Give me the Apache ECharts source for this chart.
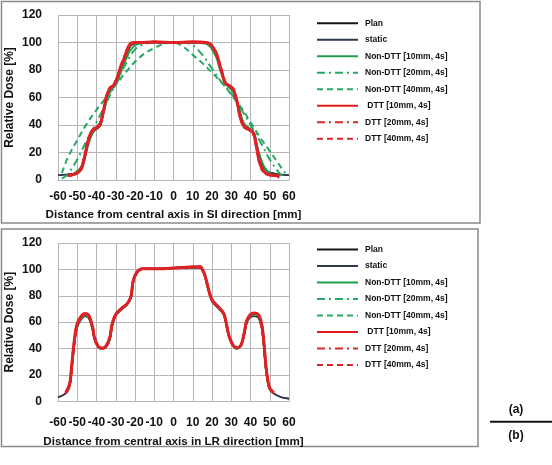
<!DOCTYPE html>
<html>
<head>
<meta charset="utf-8">
<script src="https://cdn.jsdelivr.net/npm/echarts@6/dist/echarts.min.js"></script>
<style>
html,body{margin:0;padding:0;background:#fff;}
#c{width:552px;height:465px;}
</style>
</head>
<body>
<div id="c"></div>
<script>
// ---------- DATA ----------
const xTicks = [-60,-50,-40,-30,-20,-10,0,10,20,30,40,50,60];
const yTicks = [0,20,40,60,80,100,120];
const seriesNames = ['Plan','static','Non-DTT [10mm, 4s]','Non-DTT [20mm, 4s]','Non-DTT [40mm, 4s]',' DTT [10mm, 4s]','DTT [20mm, 4s]','DTT [40mm, 4s]'];

// (a) SI direction
const xsSI = [-60,-55,-52,-50,-48,-47,-46,-45,-44,-43,
  -42,-40,-38,-37,-36,-35,-34,-33,-31,-29,
  -28,-27,-26,-25,-24,-23,-22,-20,-17,-10,
  0,10,17,19,20,22,23,24,25,26,
  27,29,31,32,33,34,35,36,37,39,
  41,42,43,44,45,46,47,49,51,55,
  60];
const planSI = [3.5,4,4.5,5.5,7.5,11,16,23,29,33,
  35,37,39.5,45,51,57,63,66,68.5,73,
  78,82,85,89,93,96,98,99.5,100,100,
  100,100,100,98.5,97,92,88,83,78,73,
  70,68,65.5,62,58,52,46,42,39.5,37.5,
  35,33,27,20,15,11,9,6,5,4,
  3.5];
const staticSI = [3.5,4,4.5,5.5,7.8,11.5,16.5,23.5,29,33,
  35,37.2,39.8,45.5,51.5,57.5,63,66,68.5,73,
  78,82,85.5,89.5,93,96,98,99.5,100,100,
  100,100,100,98.5,97,92.5,88.5,83.5,78.5,73.5,
  70.5,68,65.5,62,58,52,46.5,42.5,39.5,37.5,
  35,33,27.5,20.5,15,11,9,6,5,4,
  3.5];
const nonDtt10SI = [null,3,4.5,6.5,9.5,13,17,22,27,31,
  34,38,42,46,51,56,61,64,68,72,
  76,80,84,87,90,93,95,98,99.5,100,
  100,100,99,97,95,90,86,81,77,73,
  70,67,64,61,57,52,47,43,40.5,38,
  35,32,27,22,17,13,10,6,4,3,
  null];
const dtt10SI = [null,3.5,4,5,8,12,18,25,30,34,
  36,38,41,46,53,60,64,67,69,75,
  80,84,87,91,95,98,99.5,100,100,100.5,
  100,100.5,100,99,97.5,93,89,84,79,74,
  70.5,68.5,66,62,57,50,44,40.5,38.5,37,
  35,32,25,17,12,8,6,4,3.5,3,
  null];
const dtt20SI = [null,3,4,5.5,8.5,13,19,26,31,34.5,
  36.5,38.5,41.5,47,54,60,64.5,67,69.5,75.5,
  80.5,84.5,88,92,95.5,98,99.5,100,100,100,
  100,100,100,99,97,92.5,88.5,83.5,78.5,73.5,
  70,68,65.5,61.5,56,49,43.5,40,38,36.5,
  34.5,31,24,16,11,7.5,5.5,4,3.5,3,
  null];
const dtt40SI = [null,3,4,5,7.5,11.5,17,24,29.5,33.5,
  35.5,37.5,40.5,45.5,52,59,63.5,66.5,68.5,74.5,
  79.5,83.5,86.5,90.5,94.5,97.5,99,100,100,100,
  100,100,100,99,97.5,93,89,84.5,79.5,74.5,
  71,69,66.5,62.5,57.5,51,45,41,39,37.5,
  35.5,33,26,18.5,13,9,6.5,4.5,3.5,2,
  null];
const xsSI2 = [-58,-55,-50,-45,-40,-35,-30,-25,-20,-15,-10,-5,0,5,10,15,20,25,30,35,40,45,50,55,58];
const nonDtt20SI = [1,4,15,29,42,56,70,84,95,99,100,100,100,100,98,91,81,71,63,52,40,28,15,5,1.5];
const nonDtt40SI = [5,16,29,41,51,60,69,78,86,92,96,99,100,97,91,85,78,71,62,53,42,31,21,11,5];

// (b) LR direction
const xsLR = [-60,-56,-54,-53,-52,-51,-50,-48,-46,-44,
  -42,-41,-39,-37,-35,-33,-32,-30,-27,-24,
  -22,-21,-19,-16,-10,-5,0,5,10,14,
  15,16,17,18,20,23,26,27,28,29,
  31,33,35,36,37,38,40,42,44,45,
  46,47,48,49,50,52,56,60];
const planLR = [3,6,11,22,36,49,56,62,64.5,63,
  54,47,41,40,41,47,56,65,69.5,73.5,
  79,90,97,100.3,100.5,100.5,101,101,101,101,
  99,96,91,85,76,71,66,61,54,48,
  42,40,42,46,52,59,64,64.5,63.5,60,
  54,40,24,14,9,6,3,2];
const staticLR = [3,6,11.5,22.5,36.5,49.5,56.5,62.5,64.5,63,
  54,47,41,40,41,47,56,65,69.5,73.5,
  79,90,97,100.3,100.5,100.5,101,101,101,101,
  99,96,91,85,76,71,66,61,54,48,
  42,40,42,46,52,59,64,64.5,63.5,60,
  54,40,24,14,9,6,3,2];
const nonDtt10LR = [null,6.5,12.5,24,38,50.5,57.5,63.5,65.5,64,
  55,47.5,41,40,41.5,48,57,65.5,70,74,
  80,90.5,97.5,100.5,100.5,100.5,101,101.5,101.5,101.5,
  99.5,96.5,91.5,85.5,76.5,71.5,66.5,61.5,54.5,48.5,
  42,40,42,46.5,53,60,65,66,65,62,
  56,42,25.5,15,9.5,6,null,null];
const nonDtt20LR = [null,6,12,23.5,37.5,50,57,63,65,63.5,
  55,47,41,40,41.5,47.5,56.5,65,70,74,
  80,90,97.5,100.5,100.5,100.5,101,101.5,101.5,101.5,
  99.5,96.5,91.5,85.5,76.5,71.5,66.5,61.5,54.5,48.5,
  42,40,42,46.5,53,60,65,66,65,62,
  56,42,25,15,9.5,6,null,null];
const nonDtt40LR = [null,6,12,23,37,50,57,63,65,63.5,
  54.5,47,41,40,41.5,47.5,56.5,65,70,74,
  80,90,97.5,100.5,100.5,100.5,101,101.5,101.5,101.5,
  99.5,96.5,91.5,85.5,76.5,71.5,66.5,61.5,54.5,48.5,
  42,40,42,46.5,53,60,65,66,65,62,
  56,42,25,15,9.5,6,null,null];
const dtt10LR = [null,6.5,13,25,40,52,59,64.5,66.5,65,
  56,48,41.5,40,42,49,58,66,70.5,74,
  80,91,98,100.5,100.5,100.5,101,101.5,102,102,
  100,97,92,86,77,72,67,62,55,49,
  42.5,40.5,42.5,47,54,61,66,67,66,63,
  57,44,27,16,10,6.5,null,null];
const dtt20LR = [null,6,12,24,39,51,58,64,66,64.5,
  55.5,47.5,41,40,41.5,48.5,57.5,65.5,70,74,
  80,90.5,97.5,100.5,100.5,100.5,101,101.5,101.5,102,
  100,96.5,91.5,85.5,76.5,71.5,66.5,61.5,54.5,48.5,
  42,40,42,46.5,53.5,60.5,65.5,66.5,65.5,62.5,
  56.5,43,26,15.5,10,6,null,null];
const dtt40LR = [null,6,12.5,24.5,39.5,51.5,58.5,64,66,64.5,
  55.5,48,41.5,40.5,42,48.5,57.5,65.5,70.5,74,
  80.5,91,98,100.5,100.5,100.5,101,101,101.5,101.5,
  99.5,96.5,91.5,85.5,77,72,67,62,55,49,
  42.5,40.5,42.5,47,53.5,60.5,65.5,66.5,65.5,62.5,
  56.5,43.5,26.5,15.5,10,6,null,null];

// ---------- STYLES ----------
const FONT = "'Liberation Sans', Arial, sans-serif";
const GRID_C = '#b5b5b5';
const styles = [
  {color:'#151515', width:1.6, type:'solid'},
  {color:'#2e3a50', width:1.6, type:'solid'},
  {color:'#1f9e4c', width:2, type:'solid'},
  {color:'#26a862', width:2, type:[8,4,2,4]},
  {color:'#26a862', width:2, type:[6,4]},
  {color:'#e4191c', width:3, type:'solid'},
  {color:'#d8262a', width:2.5, type:[8,4,2,4]},
  {color:'#d8262a', width:2.5, type:[6,4]}
];

function pairs(xs, ys){ return xs.map((x,i)=>[x, ys[i]]); }

const panelA = [
  pairs(xsSI, planSI), pairs(xsSI, staticSI), pairs(xsSI, nonDtt10SI),
  pairs(xsSI2, nonDtt20SI), pairs(xsSI2, nonDtt40SI),
  pairs(xsSI, dtt10SI), pairs(xsSI, dtt20SI), pairs(xsSI, dtt40SI)
];
const panelB = [
  pairs(xsLR, planLR), pairs(xsLR, staticLR), pairs(xsLR, nonDtt10LR),
  pairs(xsLR, nonDtt20LR), pairs(xsLR, nonDtt40LR),
  pairs(xsLR, dtt10LR), pairs(xsLR, dtt20LR), pairs(xsLR, dtt40LR)
];

const series = [];
[panelA, panelB].forEach((panel, p)=>{
  panel.forEach((data, i)=>{
    series.push({
      name: seriesNames[i], type:'line', xAxisIndex:p, yAxisIndex:p,
      data: data, symbol:'none', smooth:0.35, connectNulls:false,
      lineStyle: {color:styles[i].color, width:styles[i].width, type:styles[i].type},
      itemStyle: {color:styles[i].color},
      animation:false, z: 2 + i
    });
  });
});

function xAxis(gi, name, margin, gap){
  return {
    type:'value', gridIndex:gi, min:-60, max:60, interval:10,
    name:name, nameLocation:'middle', nameGap:gap,
    nameTextStyle:{fontFamily:FONT, fontWeight:'bold', fontSize:11.6, color:'#111'},
    axisLine:{show:true, lineStyle:{color:GRID_C}}, axisTick:{show:false},
    axisLabel:{fontFamily:FONT, fontWeight:'bold', fontSize:12, color:'#111', margin:margin, showMinLabel:true, showMaxLabel:true},
    splitLine:{show:true, lineStyle:{color:GRID_C, width:1}}
  };
}
function yAxis(gi){
  return {
    type:'value', gridIndex:gi, min:0, max:120, interval:20,
    name:'Relative Dose [%]', nameLocation:'middle', nameGap:42, nameRotate:90,
    nameTextStyle:{fontFamily:FONT, fontWeight:'bold', fontSize:12, color:'#111'},
    axisLine:{show:true, lineStyle:{color:GRID_C}}, axisTick:{show:false},
    axisLabel:{fontFamily:FONT, fontWeight:'bold', fontSize:12, color:'#111', margin:16},
    splitLine:{show:true, lineStyle:{color:GRID_C, width:1}}
  };
}
function legend(top){
  return {
    orient:'vertical', left:311, top:top, itemWidth:41, itemHeight:12, itemGap:6.9,
    data: seriesNames,
    textStyle:{fontFamily:FONT, fontWeight:'bold', fontSize:8.5, color:'#111', padding:[0,0,0,2]},
    itemStyle:{opacity:0},
    selectedMode:false
  };
}

const chart = echarts.init(document.getElementById('c'), null, {renderer:'canvas'});
chart.setOption({
  animation:false,
  backgroundColor:'#fff',
  grid:[
    {left:58, width:231, top:15, height:165},
    {left:58, width:231, top:243, height:158.3}
  ],
  xAxis:[
    xAxis(0, 'Distance from central axis in SI direction [mm]', 11, 29),
    xAxis(1, 'Distance from central axis in LR direction [mm]', 15, 34.5)
  ],
  yAxis:[yAxis(0), yAxis(1)],
  legend:[legend(13.4), legend(239.6)],
  series: series,
  graphic:[
    {type:'rect', shape:{x:1.5, y:1.5, width:478.5, height:221.5}, style:{fill:'none', stroke:'#8a8a8a', lineWidth:1.5}, silent:true},
    {type:'rect', shape:{x:1.5, y:229, width:476.5, height:217.5}, style:{fill:'none', stroke:'#8a8a8a', lineWidth:1.5}, silent:true},
    {type:'text', x:516, y:410, style:{text:'(a)', fill:'#111', font:'bold 12px '+FONT, textAlign:'center', textVerticalAlign:'middle'}},
    {type:'line', shape:{x1:490, y1:421.7, x2:552, y2:421.7}, style:{stroke:'#111', lineWidth:2}},
    {type:'text', x:516, y:436, style:{text:'(b)', fill:'#111', font:'bold 12px '+FONT, textAlign:'center', textVerticalAlign:'middle'}}
  ]
});
</script>
</body>
</html>
